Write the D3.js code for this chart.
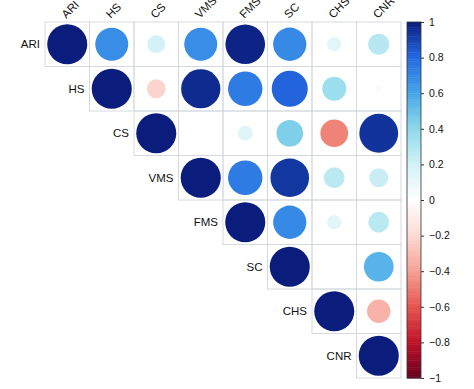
<!DOCTYPE html>
<html>
<head>
<meta charset="utf-8">
<script src="https://cdn.jsdelivr.net/npm/d3@7"></script>
<style>
  body { margin: 0; background: #fff; }
  svg text { font-family: "Liberation Sans", Arial, Helvetica, sans-serif; }
</style>
</head>
<body>
<div class="svg"></div>
<script>
// variable names (rows and columns)
var vars = ["ARI", "HS", "CS", "VMS", "FMS", "SC", "CHS", "CNR"];

// upper triangle of the correlation matrix, one row per variable (from the diagonal on)
var rowARI = [1, 0.68, 0.20, 0.68, 0.98, 0.69, 0.13, 0.28];
var rowHS  = [1, -0.22, 0.96, 0.74, 0.81, 0.36, -0.03];
var rowCS  = [1, 0.01, 0.14, 0.44, -0.48, 0.94];
var rowVMS = [1, 0.74, 0.93, 0.27, 0.23];
var rowFMS = [1, 0.69, 0.13, 0.27];
var rowSC  = [1, 0.01, 0.55];
var rowCHS = [1, -0.34];
var rowCNR = [1];

// colour bar tick labels
var barTicks = [1, 0.8, 0.6, 0.4, 0.2, 0, -0.2, -0.4, -0.6, -0.8, -1];

function corrDraw(settings) {
  Object.assign(this, corrDraw.defaults, settings);
  this.appendSvg('div.svg');
  this.buildCells();
  this.drawGrid();
  this.drawCircles();
  this.drawLabels();
  this.drawColorBar();
}

corrDraw.defaults = {
  'svg_width': 474,
  'svg_height': 389,
  'left': 45,
  'top': 22,
  'right': 401
};

corrDraw.prototype.appendSvg = function (selector) {
  this.svg = d3.select(selector || 'body')
    .append('svg')
    .attr('width', this.svg_width)
    .attr('height', this.svg_height);
};

corrDraw.prototype.buildCells = function () {
  var _self = this;
  var rows = [rowARI, rowHS, rowCS, rowVMS, rowFMS, rowSC, rowCHS, rowCNR];
  this.cells = [];
  rows.forEach(function (row, i) {
    row.forEach(function (v, k) {
      _self.cells.push({ row: vars[i], col: vars[i + k], value: v });
    });
  });
  this.x = d3.scaleBand().domain(vars).range([this.left, this.right]);
  this.y = d3.scaleBand().domain(vars).range([this.top, this.top + (this.right - this.left)]);
  this.r = d3.scaleSqrt().domain([0, 1]).range([0, this.x.bandwidth() * 0.45]);
  //corrplot like palette
  this.color = d3.scaleLinear()
    .domain([-1, -0.8, -0.6, -0.4, -0.2, 0, 0.2, 0.4, 0.6, 0.8, 1])
    .range(["#67001F", "#C0122A", "#E6554F", "#F6A194", "#FCDAD3", "#FFFFFF",
            "#D3F1F7", "#8DD9EA", "#45A6E8", "#2468E2", "#0A1C7C"]);
};

corrDraw.prototype.drawGrid = function () {
  var x = this.x, y = this.y;
  this.svg.append('g').selectAll('rect')
    .data(this.cells)
    .enter()
    .append('rect')
    .attr('x', function (d) { return x(d.col); })
    .attr('y', function (d) { return y(d.row); })
    .attr('width', x.bandwidth())
    .attr('height', y.bandwidth())
    .attr('fill', 'none')
    .attr('stroke', '#D5D9DF')
    .attr('stroke-width', 1);
};

corrDraw.prototype.drawCircles = function () {
  var x = this.x, y = this.y, r = this.r, color = this.color;
  var bw = x.bandwidth();
  this.svg.append('g').selectAll('circle')
    .data(this.cells)
    .enter()
    .append('circle')
    .attr('cx', function (d) { return x(d.col) + bw / 2; })
    .attr('cy', function (d) { return y(d.row) + bw / 2; })
    .attr('r', function (d) { return r(Math.abs(d.value)); })
    .attr('fill', function (d) { return color(d.value); });
};

corrDraw.prototype.drawLabels = function () {
  var x = this.x, y = this.y;
  var bw = x.bandwidth();
  var top = this.top;
  // row labels, left of the diagonal cell
  this.svg.append('g').selectAll('text')
    .data(vars)
    .enter()
    .append('text')
    .text(function (d) { return d; })
    .attr('x', function (d) { return x(d) - 5; })
    .attr('y', function (d) { return y(d) + bw / 2; })
    .attr('dy', '0.35em')
    .attr('text-anchor', 'end')
    .attr('font-size', '11.5px')
    .attr('fill', '#111');
  // column labels, rotated
  this.svg.append('g').selectAll('text')
    .data(vars)
    .enter()
    .append('text')
    .text(function (d) { return d; })
    .attr('transform', function (d) {
      return 'translate(' + (x(d) + bw / 2 - 1) + ',' + (top - 3) + ') rotate(-45)';
    })
    .attr('text-anchor', 'start')
    .attr('font-size', '11.5px')
    .attr('fill', '#111');
};

corrDraw.prototype.drawColorBar = function () {
  var color = this.color;
  var bx = 407, bw = 14;
  var yb = d3.scaleLinear().domain([1, -1]).range([this.top, this.top + (this.right - this.left)]);
  var steps = d3.range(200).map(function (i) { return 1 - i / 100; });
  var g = this.svg.append('g');
  g.selectAll('rect.step')
    .data(steps)
    .enter()
    .append('rect')
    .attr('class', 'step')
    .attr('x', bx)
    .attr('y', function (d) { return yb(d); })
    .attr('width', bw)
    .attr('height', yb(0) - yb(0.01) + 0.5)
    .attr('fill', function (d) { return color(d - 0.005); });
  g.append('rect')
    .attr('x', bx)
    .attr('y', yb(1))
    .attr('width', bw)
    .attr('height', yb(-1) - yb(1))
    .attr('fill', 'none')
    .attr('stroke', '#333')
    .attr('stroke-width', 0.8);

  var axis = d3.axisRight(yb)
    .tickValues(barTicks)
    .tickSize(3)
    .tickPadding(5)
    .tickFormat(function (d) { return d === 0 ? '0' : String(d).replace('-', '\u2212'); });
  var ag = g.append('g')
    .attr('transform', 'translate(' + (bx + bw) + ',0)')
    .call(axis);
  ag.select('.domain').remove();
  ag.selectAll('.tick line').attr('stroke', '#333');
  ag.selectAll('.tick text')
    .attr('font-size', '10.5px')
    .attr('font-family', '"Liberation Sans", Arial, Helvetica, sans-serif')
    .attr('fill', '#111');
};

new corrDraw({});
</script>
</body>
</html>
